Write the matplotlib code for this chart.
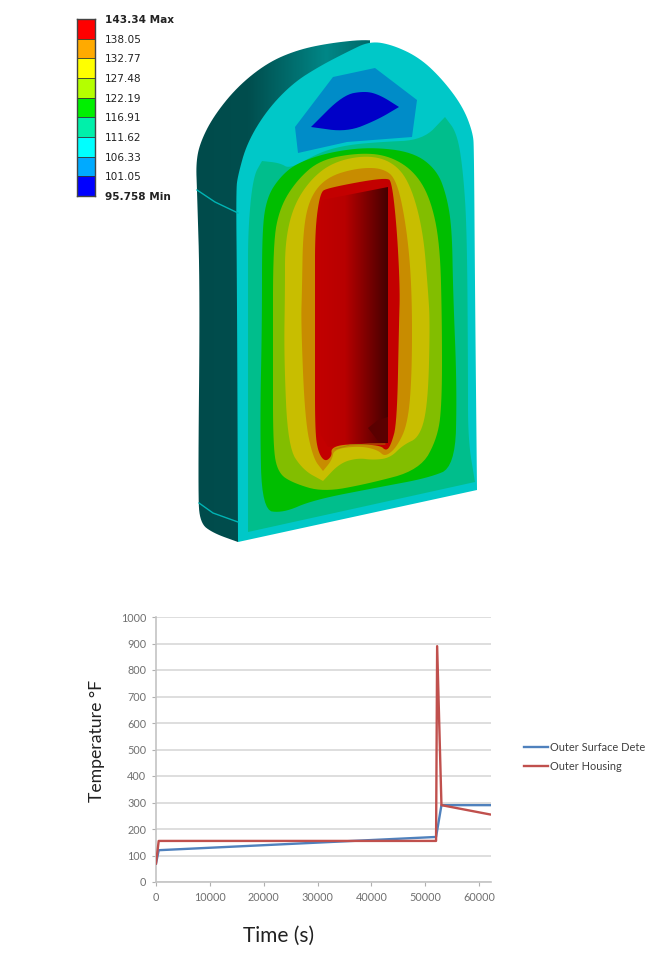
"""Thermal contour picture with its legend, above a temperature history chart."""

import matplotlib
matplotlib.use('Agg')
import matplotlib.pyplot as plt
import numpy as np
from matplotlib.colors import BoundaryNorm, ListedColormap, LinearSegmentedColormap
from matplotlib.patches import Polygon

plt.rcParams['font.family'] = ['Lato', 'DejaVu Sans']

# legend of the contour picture
levels = [95.758, 101.05, 106.33, 111.62, 116.91, 122.19, 127.48, 132.77, 138.05, 143.34]
level_colors = ['#0000ff', '#00aaff', '#00ffff', '#00f0aa', '#00f000',
                '#b4ff00', '#ffff00', '#ffaa00', '#ff0000']
level_labels = ['95.758 Min', '101.05', '106.33', '111.62', '116.91',
                '122.19', '127.48', '132.77', '138.05', '143.34 Max']

# chart data
time_blue = [0, 500, 52000, 53000, 62000]
temp_blue = [70, 120, 170, 290, 290]
time_red = [0, 500, 52000, 52200, 53000, 62000]
temp_red = [70, 155, 155, 890, 290, 255]
x_ticks = [0, 10000, 20000, 30000, 40000, 50000, 60000]
y_ticks = [0, 100, 200, 300, 400, 500, 600, 700, 800, 900, 1000]

# outlines of the model, in picture pixels. Open ones keep their two end corners.
side_outline = [(238, 542), (213, 533), (200, 523), (198, 493), (200, 290), (197, 190),
                (196, 163), (200, 143), (213, 117), (237, 87), (267, 63), (297, 50),
                (330, 43), (370, 39), (393, 45), (300, 300), (238, 542)]
front_outline = [(477, 490), (475, 290), (474, 150), (473, 133), (463, 107), (443, 80),
                 (420, 58), (393, 45), (370, 41), (347, 52), (320, 66), (293, 83),
                 (267, 110), (247, 143), (238, 175), (236, 190), (237, 290), (238, 542)]
teal_band = [(475, 482), (468, 440), (468, 373), (467, 230), (463, 170), (457, 133),
             (445, 117), (445, 117), (423, 140), (380, 142), (347, 145), (320, 152),
             (290, 169), (280, 163), (262, 161), (262, 161), (253, 177), (248, 230),
             (248, 290), (248, 532)]
green_band = [(262, 230), (267, 197), (280, 177), (297, 163), (330, 152), (370, 147),
              (413, 152), (437, 170), (447, 197), (452, 230), (453, 290), (457, 390),
              (455, 467), (428, 478), (380, 487), (313, 500), (283, 513), (262, 510),
              (260, 423), (262, 323)]
lime_band = [(273, 243), (280, 207), (297, 180), (320, 160), (357, 153), (387, 155),
             (413, 170), (430, 197), (440, 243), (442, 323), (442, 400), (438, 437),
             (420, 470), (367, 484), (323, 492), (293, 483), (278, 473), (273, 447),
             (273, 357)]
yellow_band = [(285, 243), (293, 207), (310, 180), (333, 162), (367, 155), (393, 162),
               (410, 183), (423, 230), (428, 290), (430, 323), (428, 403), (420, 437),
               (403, 445), (390, 458), (373, 460), (358, 458), (340, 463), (323, 481),
               (323, 481), (303, 470), (288, 447), (284, 357), (285, 290)]
orange_band = [(302, 290), (303, 230), (310, 197), (327, 177), (357, 168), (383, 168),
               (397, 180), (407, 230), (412, 290), (412, 373), (408, 423), (397, 447),
               (385, 457), (378, 450), (360, 446), (334, 449), (332, 460), (323, 471),
               (323, 471), (313, 458), (305, 420), (301, 323)]
red_band = [(315, 290), (315, 230), (320, 193), (327, 188), (387, 177), (392, 183),
            (397, 230), (400, 290), (399, 323), (397, 423), (391, 445), (386, 451),
            (380, 445), (345, 444), (331, 448), (332, 456), (325, 462), (318, 452),
            (315, 430), (315, 360)]
cavity_outline = [(322, 200), (388, 187), (388, 443), (345, 444), (328, 447), (318, 430),
                  (315, 290), (316, 230)]
cavity_corner = [(368, 428), (378, 420), (388, 417), (388, 443), (378, 441)]
lip_line = [(335, 449), (350, 445), (370, 444), (385, 444)]
blue_zone = [(295, 127), (333, 77), (375, 68), (417, 100), (412, 137), (347, 142), (298, 153)]
deep_blue_zone = [(311, 127), (311, 127), (343, 95), (365, 91), (380, 95), (399, 107),
                  (399, 107), (377, 120), (347, 132)]
rim_top = [(197, 190), (215, 202), (238, 213)]
rim_bottom = [(199, 503), (213, 513), (238, 522)]


def chaikin(points, passes=3, closed=True):
    """Round a polygon by corner cutting; an open one keeps its end points."""
    pts = np.asarray(points, dtype=float)
    for _ in range(passes):
        nxt = np.roll(pts, -1, axis=0) if closed else pts[1:]
        cur = pts if closed else pts[:-1]
        cut = np.empty((2 * len(cur), 2))
        cut[0::2] = 0.75 * cur + 0.25 * nxt
        cut[1::2] = 0.25 * cur + 0.75 * nxt
        pts = cut if closed else np.vstack([pts[0], cut, pts[-1]])
    return pts


fig = plt.figure(figsize=(6.6, 9.69), dpi=100)

# model picture drawn in pixel coordinates
pic = fig.add_axes([0, 0, 1, 1])
pic.axis('off')

side_cmap = LinearSegmentedColormap.from_list('side', [(0.0, '#004b4b'), (0.3, '#004e4e'),
                                                       (0.6, '#007373'), (0.75, '#008787'),
                                                       (1.0, '#006969')])
side_img = pic.imshow(np.linspace(0, 1, 200)[None, :], extent=(196, 370, 542, 40),
                      cmap=side_cmap, aspect='auto', zorder=1)
side_patch = Polygon(chaikin(side_outline, closed=False), closed=True, fc='none', ec='none',
                     transform=pic.transData)
pic.add_patch(side_patch)
side_img.set_clip_path(side_patch)

bands = [(front_outline, '#00c8c8', False), (teal_band, '#00be8c', False),
         (green_band, '#00be00', True), (lime_band, '#82be00', True),
         (yellow_band, '#c8be00', True), (orange_band, '#c88c00', True),
         (red_band, '#c30000', True)]
for outline, color, closed in bands:
    pic.add_patch(Polygon(chaikin(outline, closed=closed), closed=True, fc=color, ec='none',
                          zorder=2))

# the cold zone keeps its straight edges, only the core is rounded
pic.add_patch(Polygon(blue_zone, closed=True, fc='#008cc8', ec='none', zorder=2))
pic.add_patch(Polygon(chaikin(deep_blue_zone), closed=True, fc='#0000c8', ec='none', zorder=2))

cavity_cmap = LinearSegmentedColormap.from_list('cavity', [(0.0, '#c30000'), (0.4, '#b80000'),
                                                           (1.0, '#460000')])
cavity_img = pic.imshow(np.linspace(0, 1, 200)[None, :], extent=(316, 388, 447, 187),
                        cmap=cavity_cmap, aspect='auto', zorder=3)
cavity_patch = Polygon(cavity_outline, closed=True, fc='none', ec='none', transform=pic.transData)
pic.add_patch(cavity_patch)
cavity_img.set_clip_path(cavity_patch)
pic.add_patch(Polygon(cavity_corner, closed=True, fc='#5a0000', ec='none', zorder=4))
pic.plot(*zip(*lip_line), color='#a08800', lw=0.6, zorder=5)

for rim in (rim_top, rim_bottom):
    pic.plot(*zip(*rim), color='#00b4b4', lw=1.0, zorder=5)

pic.set_xlim(0, 660)
pic.set_ylim(969, 0)

# contour legend
bar = fig.add_axes([77 / 660, 1 - 196 / 969, 18 / 660, 177 / 969])
norm = BoundaryNorm(np.arange(len(levels)), len(level_colors))
bar.pcolormesh([0, 1], np.arange(len(levels)), np.arange(len(level_colors))[:, None] + 0.5,
               cmap=ListedColormap(level_colors), norm=norm, edgecolors='none')
bar.set_xticks([])
bar.yaxis.tick_right()
bar.set_yticks(np.arange(len(levels)))
bar.set_yticklabels(level_labels, family='DejaVu Sans', fontsize=7.6, color='#222222')
bar.tick_params(axis='y', length=0, pad=7)
for i in (0, len(levels) - 1):
    bar.get_yticklabels()[i].set_fontweight('bold')
for y in np.arange(len(levels)):
    bar.axhline(y, color='#333333', lw=0.6)
for spine in bar.spines.values():
    spine.set_color('#444444')
    spine.set_linewidth(1.0)

# temperature chart
ax = fig.add_axes([156 / 660, 1 - 882 / 969, 335 / 660, 265 / 969])
ax.plot(time_blue, temp_blue, color='#4f81bd', lw=1.7, label='Outer Surface Dete', zorder=3)
ax.plot(time_red, temp_red, color='#c0504d', lw=1.7, label='Outer Housing', zorder=4)
ax.set_xlim(0, 62200)
ax.set_ylim(0, 1000)
ax.set_xticks(x_ticks)
ax.set_yticks(y_ticks)
ax.grid(axis='y', color='#d8d8d8', lw=1.2)
ax.set_axisbelow(True)
ax.patch.set_alpha(0)
ax.spines['top'].set_visible(False)
ax.spines['right'].set_visible(False)
ax.spines['left'].set_color('#c4c4c4')
ax.spines['bottom'].set_color('#c4c4c4')
ax.spines['left'].set_linewidth(1.2)
ax.spines['bottom'].set_linewidth(1.2)
ax.tick_params(axis='both', color='#b0b0b0', length=3, width=0.8, labelsize=7.8,
               labelcolor='#707070', pad=4)
fig.text(97 / 660, 1 - 741 / 969, 'Temperature °F', rotation=90, ha='center', va='center',
         fontsize=12.7, color='#222222')
fig.text(279 / 660, 1 - 936 / 969, 'Time (s)', ha='center', va='center',
         fontsize=15, color='#222222')
fig.legend(loc='center left', bbox_to_anchor=(522 / 660, 1 - 757 / 969), frameon=False,
           fontsize=7.9, labelcolor='#404040', handlelength=2.15, handletextpad=0.2,
           labelspacing=0.75, borderaxespad=0, borderpad=0.2)

fig.savefig('out.png', dpi=100)
